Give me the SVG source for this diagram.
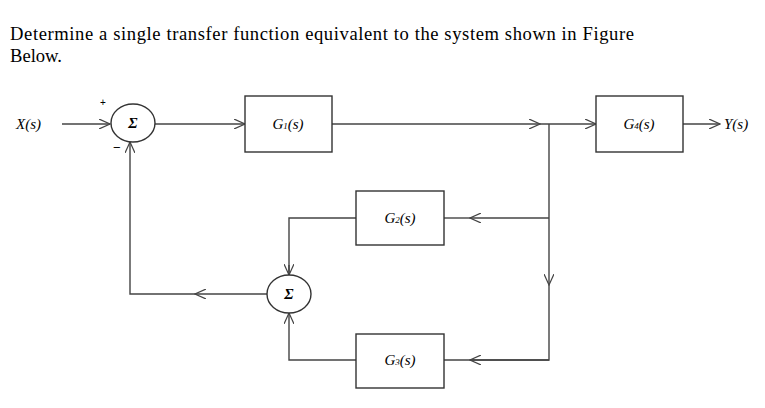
<svg xmlns="http://www.w3.org/2000/svg" width="765" height="408" viewBox="0 0 765 408">
<style>
.t{font-family:'Liberation Serif','Times New Roman',Times,serif;font-size:18.6px;fill:#000}
.l{font-family:'Liberation Serif','Times New Roman',Times,serif;font-size:15px;font-style:italic;fill:#000}
.s{font-size:9px}
.b{fill:#fff;stroke:#333;stroke-width:1.4}
.c{fill:none;stroke:#444;stroke-width:1.4}
</style>
<defs><marker id="a" markerWidth="12" markerHeight="10" refX="11" refY="5" orient="auto" markerUnits="userSpaceOnUse"><path d="M0,0 L11,5 L0,10" fill="none" stroke="#444" stroke-width="1.2"/></marker></defs>
<rect width="765" height="408" fill="#fff"/>
<text class="t" x="10" y="40" textLength="624" lengthAdjust="spacing">Determine a single transfer function equivalent to the system shown in Figure</text>
<text class="t" x="10" y="62">Below.</text>
<g id="connectors" class="c">
<path d="M62,124 H110" marker-end="url(#a)"/>
<path d="M155,124 H245" marker-end="url(#a)"/>
<path d="M332,124 H540" marker-end="url(#a)"/>
<path d="M540,124 H596" marker-end="url(#a)"/>
<path d="M683,124 H720" marker-end="url(#a)"/>
<path d="M549,124 V285" marker-end="url(#a)"/>
<path d="M549,285 V360 H444"/>
<path d="M549,218 H470" marker-end="url(#a)"/>
<path d="M470,218 H444"/>
<path d="M549,360 H470" marker-end="url(#a)"/>
<path d="M356,218 H289 V275"/>
<path d="M289,265 V275" marker-end="url(#a)"/>
<path d="M356,360 H289 V313" marker-end="url(#a)"/>
<path d="M267,294 H195" marker-end="url(#a)"/>
<path d="M195,294 H130 V142" marker-end="url(#a)"/>
</g>
<g id="sum1"><ellipse class="b" cx="133" cy="123" rx="22" ry="19"/><text class="l" x="133" y="128" text-anchor="middle" font-style="normal" font-weight="bold" font-size="13">Σ</text>
<text x="100" y="106" font-family="Liberation Sans,sans-serif" font-size="10">+</text><text x="113" y="152" font-family="Liberation Sans,sans-serif" font-size="13">−</text></g>
<g id="sum2"><ellipse class="b" cx="289" cy="294" rx="22" ry="19"/><text class="l" x="289" y="299" text-anchor="middle" font-style="normal" font-weight="bold" font-size="13">Σ</text></g>
<g id="g1"><rect class="b" x="245" y="96" width="87" height="56"/><text class="l" x="288" y="129" text-anchor="middle">G<tspan class="s">1</tspan>(s)</text></g>
<g id="g4"><rect class="b" x="596" y="96" width="87" height="56"/><text class="l" x="639" y="129" text-anchor="middle">G<tspan class="s">4</tspan>(s)</text></g>
<g id="g2"><rect class="b" x="356" y="191" width="88" height="54"/><text class="l" x="400" y="223" text-anchor="middle">G<tspan class="s">2</tspan>(s)</text></g>
<g id="g3"><rect class="b" x="356" y="334" width="88" height="54"/><text class="l" x="400" y="365" text-anchor="middle">G<tspan class="s">3</tspan>(s)</text></g>
<text class="l" x="16" y="129">X(s)</text>
<text class="l" x="724" y="129">Y(s)</text>
</svg>
